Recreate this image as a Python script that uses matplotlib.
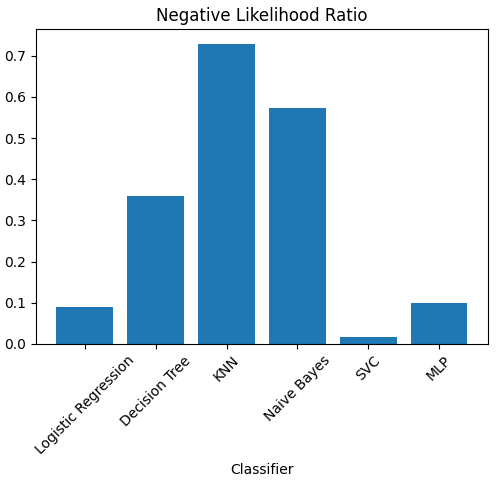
import matplotlib
matplotlib.use('Agg')
import matplotlib.pyplot as plt

classifiers = ['Logistic Regression', 'Decision Tree', 'KNN', 'Naive Bayes', 'SVC', 'MLP']
neg_lr = [0.090, 0.359, 0.728, 0.573, 0.017, 0.0995]

fig = plt.figure(figsize=(4.98, 4.87), dpi=100)
ax = fig.add_subplot(111)
ax.bar(classifiers, neg_lr)
ax.set_title('Negative Likelihood Ratio')
ax.set_xlabel('Classifier')
plt.xticks(rotation=45)
fig.subplots_adjust(left=0.072, right=0.98, top=0.94, bottom=0.294)
fig.savefig('out.png')
